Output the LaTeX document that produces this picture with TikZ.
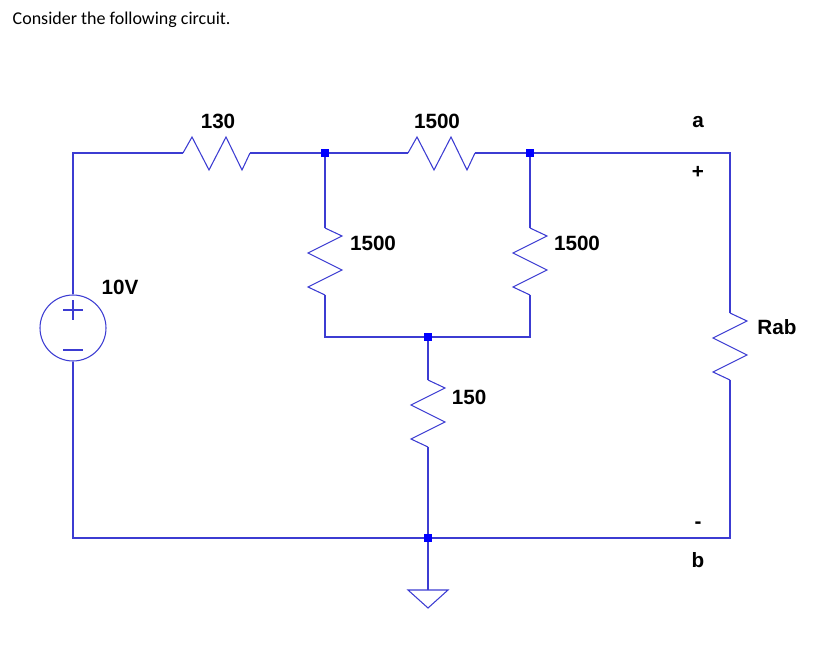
\documentclass[tikz,border=0pt]{standalone}
\usepackage{fontspec}
\setmainfont{Liberation Sans}
\newfontfamily\titlefont{Carlito}
\begin{document}
\begin{tikzpicture}[x=0.75pt,y=-0.75pt,
  wire/.style={draw={rgb,255:red,60;green,60;blue,210},line width=0.8pt},
  dot/.style={fill={rgb,255:red,0;green,0;blue,255},minimum size=6pt,inner sep=0pt,draw=none},
  lbl/.style={font=\bfseries\fontsize{15.5}{18}\selectfont},
  vres/.pic={\draw[wire] (0,0)--(0,0)--(17,8)--(-17,25)--(17,42)--(-17,59)--(0,67);},
  hres/.pic={\draw[wire] (0,0)--(9,-16)--(26,17)--(43,-16)--(59,17)--(67,0);}]
\useasboundingbox (0,0) rectangle (837,650);
\node[anchor=west,font=\titlefont\fontsize{13.5}{16}\selectfont] (title) at (8,20) {Consider the following circuit.};
% coordinates
\coordinate (tl) at (73,153);
\coordinate (bl) at (73,538);
\node[dot] (n1) at (325,153) {};
\node[dot] (n2) at (530,153) {};
\node[dot] (n3) at (428,337) {};
\node[dot] (n4) at (428,538) {};
\coordinate (tr) at (730,153);
\coordinate (br) at (730,538);
\coordinate (gnd) at (428,590);
% source
\node[circle,draw={rgb,255:red,60;green,60;blue,210},line width=0.8pt,minimum size=49.5pt,inner sep=0pt] (V) at (73,328) {};
\draw[wire] (63,310)--(83,310) (73,300)--(73,320);
\draw[wire] (63,350)--(83,350);
\node[lbl] (v10) at (120,287) {10V};
% resistors
\pic at (183,153) {hres};
\node[lbl] (l130) at (218,121) {130};
\pic at (408,153) {hres};
\node[lbl] (l1500t) at (437,121) {1500};
\pic at (325,228) {vres};
\node[lbl] (l1500l) at (373,243) {1500};
\pic at (530,228) {vres};
\node[lbl] (l1500r) at (577,243) {1500};
\pic at (428,380) {vres};
\node[lbl] (l150) at (469,397) {150};
\pic at (730,313) {vres};
\node[lbl] (lrab) at (777,327) {Rab};
% wires
\draw[wire] (V.south)--(bl)--(n4)--(br)--(730,380);
\draw[wire] (V.north)--(tl)--(183,153);
\draw[wire] (250,153)--(n1)--(408,153);
\draw[wire] (475,153)--(n2)--(tr)--(730,313);
\draw[wire] (n1)--(325,228) (325,295)--(325,337)--(n3)--(530,337)--(530,295) (530,228)--(n2);
\draw[wire] (n3)--(428,380) (428,447)--(n4)--(gnd);
\draw[wire] (408,590)--(448,590)--(428,608)--cycle;
% terminal labels
\node[lbl] (la) at (698,122) {a};
\node[lbl] (lp) at (698,172) {+};
\node[lbl] (lm) at (698,525) {-};
\node[lbl] (lb) at (698,560) {b};
\end{tikzpicture}
\end{document}
